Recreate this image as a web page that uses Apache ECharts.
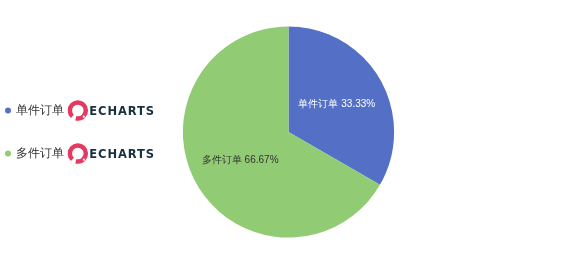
<!DOCTYPE html>
<html><head><meta charset="utf-8">
<script src="https://cdn.jsdelivr.net/npm/echarts@6/dist/echarts.min.js"></script>
<style>html,body{margin:0;padding:0;background:#fff}#c{width:577px;height:264px}</style>
</head><body><div id="c"></div>
<script>
var categories = ['单件订单', '多件订单'];
var values = [1, 2];
var colors = ['#5470c6', '#91cc75'];

var svg = '<svg xmlns="http://www.w3.org/2000/svg" width="90" height="22" viewBox="0 0 90 22">' +
  '<circle cx="10.5" cy="11" r="8" fill="none" stroke="#e43961" stroke-width="4.5" stroke-dasharray="46 4.3" transform="rotate(133 10.5 11)"/>' +
  '<circle cx="16.5" cy="17.2" r="1.1" fill="#ffffff"/>' +
  '<text x="22" y="15.5" font-family="DejaVu Sans, sans-serif" font-weight="600" font-size="11.5" letter-spacing="0.9" fill="#18303f">ECHARTS</text>' +
  '</svg>';
var logo = 'data:image/svg+xml;charset=utf-8,' + encodeURIComponent(svg);

var chart = echarts.init(document.getElementById('c'));
chart.setOption({
  color: colors,
  legend: {
    orient: 'vertical',
    left: 0,
    top: 'middle',
    icon: 'circle',
    itemWidth: 6,
    itemHeight: 6,
    itemGap: 21,
    data: categories,
    formatter: function (n) { return n + ' {logo|}'; },
    textStyle: {
      fontSize: 12,
      color: '#333',
      rich: { logo: { width: 90, height: 22, backgroundColor: { image: logo } } }
    }
  },
  series: [{
    type: 'pie',
    radius: '80%',
    center: ['50%', '50%'],
    label: {
      position: 'inner',
      formatter: '{b} {d}%',
      fontSize: 10
    },
    data: categories.map(function (c, i) {
      return {
        name: c, value: values[i],
        label: i === 0 ? { color: '#fff' } : { color: '#333' }
      };
    })
  }]
});
</script></body></html>
